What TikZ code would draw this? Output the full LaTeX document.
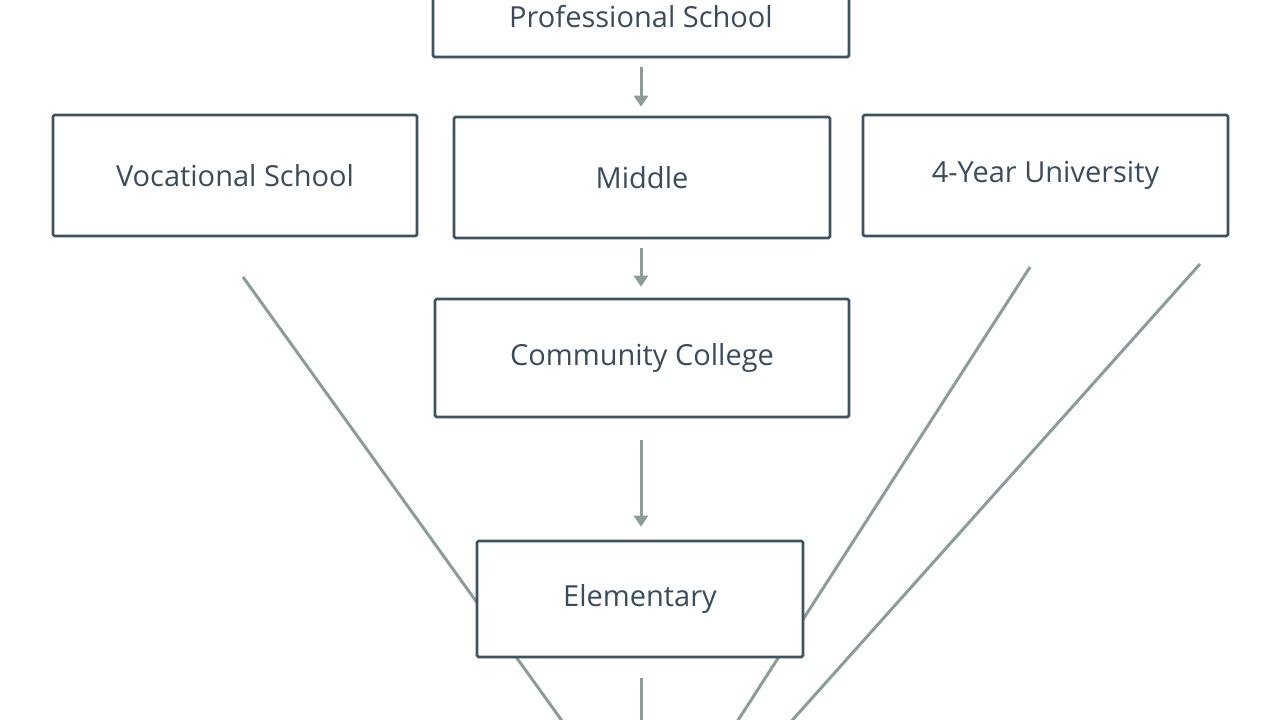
\documentclass[tikz,border=0pt]{standalone}
\usetikzlibrary{arrows.meta}
\usepackage{fontspec}
\setmainfont{Open Sans}
\definecolor{boxc}{HTML}{3D5262}
\definecolor{txtc}{HTML}{3A4C5C}
\definecolor{arrc}{HTML}{8C9C9C}
\begin{document}
\begin{tikzpicture}[x=1pt,y=-1pt,
  box/.style={draw=boxc,line width=2.6pt,fill=white,rounded corners=1.5pt,font=\fontsize{29}{34}\selectfont,text=txtc},
  arr/.style={draw=arrc,line width=3pt,-{Triangle[width=14pt,length=11pt]}},
  diag/.style={draw=arrc,line width=3pt}]
\useasboundingbox (0,0) rectangle (1280,720);
\clip (0,0) rectangle (1280,720);
\coordinate (d1a) at (243,277); \coordinate (d1b) at (565,725);
\coordinate (d2a) at (1030,267); \coordinate (d2b) at (735,725);
\coordinate (d3a) at (1200,264); \coordinate (d3b) at (788,725);
\draw[diag] (d1a) -- (d1b);
\draw[diag] (d2a) -- (d2b);
\draw[diag] (d3a) -- (d3b);
\node[box,minimum width=416pt,minimum height=80pt] (prof) at (641,17) {Professional School};
\node[box,minimum width=364pt,minimum height=121pt] (voc) at (235,175.5) {Vocational School};
\node[box,minimum width=376pt,minimum height=121pt] (mid) at (642,177.5) {Middle};
\node[box,minimum width=365pt,minimum height=121pt] (uni) at (1045.5,175.5) {4-Year University};
\node[box,minimum width=414pt,minimum height=118pt] (cc) at (642,358) {Community College};
\node[box,minimum width=326pt,minimum height=116pt] (elem) at (640,599) {Elementary};
\coordinate (e1) at (641,678); \coordinate (e2) at (641,725);
\draw[arr,shorten <=9pt,shorten >=9pt] (prof.south -| 641,0) -- (mid.north -| 641,0);
\draw[arr,shorten <=9pt,shorten >=11pt] (mid.south -| 641,0) -- (cc.north -| 641,0);
\draw[arr,shorten <=22pt,shorten >=13pt] (cc.south -| 641,0) -- (elem.north -| 641,0);
\draw[diag] (e1) -- (e2);
\end{tikzpicture}
\end{document}
